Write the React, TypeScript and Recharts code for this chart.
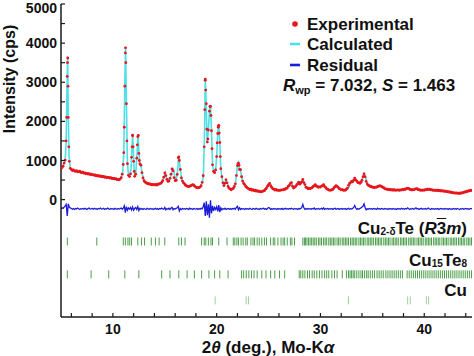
import React from 'react';
import { ComposedChart, Line, XAxis, YAxis } from 'recharts';

// ---------- data ----------
const OBS_START = 5.0;
const OBS_STEP = 0.1;
// experimental intensity (cps), one value per 0.1 deg from 5.0 to 44.6
const obsCounts = [
  790, 820, 855, 935, 1010, 1500, 3150, 2100, 980, 800,
  770, 745, 760, 730, 725, 740, 710, 715, 725, 700,
  695, 700, 675, 685, 660, 670, 655, 665, 640, 650,
  635, 640, 620, 630, 605, 620, 600, 615, 590, 600,
  585, 595, 570, 580, 560, 565, 570, 550, 560, 540,
  540, 545, 525, 535, 510, 520, 505, 525, 560, 650,
  900, 1850, 3750, 2450, 920, 620, 590, 660, 1080, 1630,
  980, 595, 650, 1060, 1610, 1180, 915, 880, 690, 555,
  485, 445, 435, 410, 415, 395, 400, 380, 390, 375,
  380, 390, 370, 395, 390, 410, 415, 440, 485, 575,
  680, 615, 520, 470, 475, 545, 650, 785, 735, 560,
  485, 495, 645, 1070, 1000, 770, 555, 475, 430, 405,
  370, 350, 340, 330, 345, 355, 365, 385, 370, 340,
  320, 305, 300, 310, 320, 355, 440, 610, 1350, 3050,
  2450, 1470, 1780, 2260, 2380, 1760, 890, 720, 690, 760,
  1100, 1690, 1880, 1460, 790, 585, 430, 360, 420, 505,
  430, 335, 290, 270, 250, 275, 285, 335, 405, 615,
  870, 935, 770, 765, 585, 475, 415, 385, 335, 315,
  290, 275, 255, 265, 240, 255, 230, 240, 215, 230,
  210, 215, 200, 205, 205, 225, 230, 265, 295, 345,
  385, 415, 355, 315, 275, 270, 245, 260, 240, 245,
  235, 240, 245, 250, 250, 265, 265, 290, 295, 345,
  365, 415, 435, 345, 295, 315, 335, 375, 405, 445,
  395, 425, 455, 515, 435, 385, 315, 305, 280, 285,
  280, 295, 305, 335, 355, 385, 345, 335, 315, 325,
  320, 345, 360, 385, 335, 310, 275, 265, 245, 245,
  240, 255, 260, 305, 325, 360, 340, 315, 280, 270,
  250, 255, 240, 245, 240, 265, 295, 365, 415, 435,
  465, 455, 495, 550, 505, 475, 435, 435, 415, 445,
  495, 585, 655, 585, 465, 405, 365, 355, 335, 335,
  315, 320, 305, 320, 315, 335, 340, 360, 345, 340,
  315, 305, 275, 275, 260, 265, 250, 260, 245, 255,
  240, 255, 240, 245, 245, 250, 235, 250, 245, 260,
  250, 265, 265, 285, 285, 290, 260, 260, 245, 255,
  250, 270, 275, 280, 255, 255, 240, 245, 240, 245,
  240, 255, 250, 265, 260, 265, 250, 255, 240, 245,
  235, 240, 235, 240, 225, 235, 220, 230, 215, 220,
  210, 215, 200, 205, 190, 195, 180, 185, 170, 175,
  165, 170, 160, 165, 155, 170, 165, 180, 180, 200,
  195, 215, 210, 230, 225, 240, 235,
];
// extra experimental points measured on the steep peak flanks
const obsPeakDetail: [number, number][] = [
  [5.55, 2100], [5.62, 3500], [5.65, 3620], [5.68, 2900], [5.75, 1350],
  [11.05, 1200], [11.15, 2900], [11.22, 3880], [11.25, 3500], [11.35, 1500],
  [11.85, 1350], [11.9, 1650], [11.95, 1350], [12.05, 720],
  [12.35, 1400], [12.45, 1640], [12.55, 1000], [16.35, 1090],
  [18.85, 2300], [18.9, 3080], [18.95, 2800], [19.05, 1800], [19.15, 1550],
  [19.35, 2380], [19.45, 2150], [19.55, 1300],
  [20.05, 1450], [20.15, 1850], [20.2, 1900], [20.25, 1700], [20.35, 1100],
  [22.05, 920], [22.15, 880],
];
// calculated profile [2theta, cps]
const calcProfile: [number, number][] = [
  [5.0, 790], [5.2, 860], [5.4, 1000], [5.5, 1500], [5.58, 2900], [5.64, 3650], [5.7, 2200],
  [5.78, 1100], [5.9, 790], [6.2, 750], [7.0, 690], [8.0, 630], [9.0, 585], [10.0, 535],
  [10.6, 515], [10.8, 555], [10.95, 700], [11.05, 1200], [11.15, 3000], [11.22, 3910],
  [11.3, 2500], [11.4, 950], [11.5, 630], [11.62, 600], [11.75, 780], [11.85, 1400],
  [11.9, 1660], [11.97, 1300], [12.05, 750], [12.12, 600], [12.2, 680], [12.3, 1050],
  [12.4, 1550], [12.44, 1660], [12.5, 1250], [12.58, 950], [12.68, 890], [12.8, 700],
  [12.95, 520], [13.2, 440], [13.6, 400], [14.0, 380], [14.4, 395], [14.7, 440],
  [14.9, 560], [15.05, 690], [15.2, 540], [15.35, 470], [15.55, 560], [15.75, 780],
  [15.8, 790], [15.9, 700], [16.0, 490], [16.1, 500], [16.2, 650], [16.35, 1100],
  [16.5, 770], [16.6, 560], [16.75, 460], [17.0, 370], [17.3, 330], [17.6, 360],
  [17.75, 380], [18.0, 320], [18.2, 300], [18.4, 320], [18.6, 430], [18.72, 600],
  [18.82, 1600], [18.9, 3090], [18.98, 2500], [19.08, 1450], [19.2, 1800], [19.32, 2300],
  [19.4, 2420], [19.5, 1750], [19.6, 900], [19.7, 720], [19.8, 690], [19.9, 770],
  [20.0, 1100], [20.1, 1700], [20.2, 1910], [20.3, 1450], [20.4, 780], [20.5, 590],
  [20.6, 430], [20.7, 360], [20.8, 420], [20.9, 510], [21.0, 430], [21.2, 295],
  [21.4, 255], [21.6, 290], [21.8, 410], [21.9, 610], [22.0, 870], [22.1, 940],
  [22.2, 780], [22.3, 760], [22.4, 590], [22.5, 470], [22.7, 380], [23.0, 290],
  [23.3, 255], [23.8, 230], [24.3, 205], [24.6, 230], [24.8, 300], [25.0, 390],
  [25.1, 410], [25.25, 340], [25.5, 270], [26.0, 240], [26.5, 260], [26.9, 320],
  [27.2, 440], [27.35, 330], [27.5, 300], [27.75, 390], [27.9, 440], [28.0, 400],
  [28.1, 420], [28.3, 510], [28.5, 380], [28.7, 300], [28.9, 280], [29.2, 310],
  [29.5, 380], [29.7, 340], [29.9, 320], [30.1, 340], [30.3, 380], [30.5, 305],
  [30.7, 260], [30.9, 240], [31.2, 260], [31.4, 320], [31.55, 355], [31.8, 290],
  [32.1, 250], [32.5, 245], [32.7, 300], [32.9, 430], [33.0, 470], [33.1, 450],
  [33.27, 550], [33.45, 480], [33.7, 425], [33.9, 440], [34.1, 580], [34.2, 660],
  [34.35, 560], [34.5, 400], [34.7, 350], [35.0, 320], [35.3, 315], [35.6, 345],
  [35.75, 355], [36.0, 320], [36.3, 270], [36.8, 252], [37.5, 245], [38.0, 255],
  [38.4, 290], [38.7, 255], [39.0, 255], [39.2, 280], [39.5, 250], [40.0, 245],
  [40.4, 265], [40.8, 240], [41.5, 230], [42.0, 215], [42.5, 195], [43.0, 170],
  [43.4, 162], [43.8, 185], [44.2, 215], [44.6, 240],
];
const RES_START = 5.0;
const RES_STEP = 0.1;
// residual curve (offset below zero), one value per 0.1 deg
const residualCounts = [
  -240, -210, -225, -190, -160, -120, -420, -110, -190, -215,
  -220, -245, -230, -250, -225, -240, -215, -235, -250, -230,
  -240, -225, -245, -220, -235, -250, -230, -215, -240, -235,
  -225, -245, -220, -240, -230, -250, -225, -235, -215, -240,
  -235, -220, -250, -230, -240, -215, -235, -245, -225, -240,
  -230, -250, -220, -235, -245, -225, -240, -230, -215, -245,
  -220, -160, -330, -180, -270, -215, -245, -200, -265, -190,
  -270, -225, -200, -250, -180, -280, -220, -245, -230, -250,
  -225, -240, -250, -220, -235, -245, -225, -240, -230, -250,
  -235, -220, -245, -230, -250, -225, -240, -215, -235, -245,
  -200, -260, -230, -245, -220, -250, -215, -200, -260, -230,
  -240, -225, -210, -170, -290, -230, -250, -225, -240, -230,
  -245, -225, -235, -250, -220, -240, -230, -250, -225, -235,
  -240, -225, -250, -230, -245, -220, -235, -180, -80, -420,
  -40, -400, -120, -460, -20, -350, -160, -290, -200, -250,
  -180, -300, -140, -320, -210, -260, -230, -245, -220, -250,
  -235, -225, -245, -230, -250, -225, -240, -220, -245, -200,
  -170, -260, -210, -250, -225, -240, -230, -250, -225, -240,
  -230, -245, -220, -240, -250, -225, -235, -245, -220, -240,
  -235, -250, -225, -240, -230, -220, -245, -230, -250, -225,
  -200, -215, -250, -235, -245, -225, -240, -230, -250, -225,
  -240, -230, -245, -225, -250, -235, -220, -240, -230, -245,
  -225, -240, -220, -235, -245, -225, -240, -230, -250, -225,
  -240, -225, -200, -120, -210, -250, -230, -245, -225, -240,
  -230, -245, -225, -240, -215, -250, -230, -240, -225, -245,
  -235, -220, -245, -210, -250, -230, -240, -225, -245, -230,
  -240, -225, -250, -230, -220, -245, -235, -225, -250, -235,
  -225, -245, -230, -240, -225, -250, -235, -220, -245, -230,
  -240, -225, -200, -150, -215, -250, -230, -245, -225, -210,
  -190, -170, -110, -200, -260, -235, -245, -225, -240, -230,
  -245, -225, -240, -230, -250, -220, -240, -230, -245, -225,
  -235, -245, -225, -240, -230, -250, -225, -240, -230, -245,
  -225, -240, -235, -250, -225, -240, -230, -245, -220, -240,
  -230, -245, -225, -240, -210, -235, -250, -230, -240, -225,
  -245, -230, -210, -240, -225, -250, -235, -220, -245, -230,
  -240, -225, -245, -230, -215, -240, -250, -225, -240, -230,
  -245, -230, -240, -225, -250, -235, -225, -240, -230, -245,
  -225, -240, -230, -250, -225, -240, -235, -245, -225, -240,
  -230, -245, -225, -240, -250, -230, -240, -225, -245, -235,
  -225, -240, -230, -245, -235, -225, -240,
];
// Bragg reflection positions (2theta, deg)
const cu2TeReflections = [
  5.61, 8.45, 11.0, 11.2, 11.45, 11.62, 11.8, 12.4, 12.75, 13.05, 13.7, 14.1, 14.45, 15.0,
  16.35, 16.6, 16.95, 18.55, 18.8, 18.95, 19.2, 19.45, 19.6, 20.2, 21.0, 21.6, 21.75, 21.95,
  22.1, 22.35, 22.55, 22.8, 22.95, 23.3, 23.5, 23.65, 23.9, 24.1, 24.35, 24.6, 24.8, 25.2,
  25.45, 25.6, 25.9, 26.2, 26.4, 26.55, 26.8, 27.1, 27.25, 27.5, 28.3, 28.45, 28.55, 28.7,
  28.85, 29.0, 29.15, 29.3, 29.45, 29.6, 29.8, 29.95, 30.1, 30.3, 30.45, 30.6, 30.8, 30.95,
  31.1, 31.25, 31.4, 31.6, 31.75, 31.9, 32.1, 32.25, 32.4, 32.55, 32.7, 32.9, 33.05, 33.2,
  33.35, 33.5, 33.7, 33.85, 34.0, 34.15, 34.3, 34.5, 34.65, 34.8, 34.95, 35.1, 35.3, 35.45,
  35.6, 35.75, 35.9, 36.1, 36.25, 36.4, 36.55, 36.7, 36.9, 37.05, 37.2, 37.35, 37.5, 37.7,
  37.85, 38.0, 38.15, 38.3, 38.5, 38.65, 38.8, 38.95, 39.1, 39.3, 39.45, 39.6, 39.75, 39.9,
  40.1, 40.25, 40.4, 40.55, 40.7, 40.9, 41.05, 41.2, 41.35, 41.5, 41.7, 41.85, 42.0, 42.15,
  42.3, 42.5, 42.65, 42.8, 42.95, 43.1, 43.3, 43.45, 43.6, 43.75, 43.9, 44.1, 44.25, 44.4, 44.55,
];
const cu15Te8Reflections = [
  5.61, 7.9, 9.6, 11.15, 12.5, 14.7, 15.5, 16.35, 17.15, 17.85, 18.55, 19.25, 19.8, 20.3,
  21.1, 22.4, 22.6, 22.85, 23.1, 23.35, 23.6, 23.9, 24.35, 24.75, 25.2, 25.6, 26.05, 26.55,
  27.95, 28.1, 28.3, 28.5, 28.75, 28.95, 29.2, 29.4, 29.65, 29.9, 30.15, 30.4, 30.6, 30.8,
  31.1, 31.35, 31.6, 32.1, 32.5, 32.7, 32.85, 33.0, 33.15, 33.3, 33.5, 33.7, 33.9, 34.05,
  34.25, 34.45, 34.6, 34.8, 35.0, 35.2, 35.45, 35.65, 35.85, 36.05, 36.3, 36.5, 36.7, 36.9,
  37.1, 37.3, 37.5, 37.7, 37.9, 38.35, 38.55, 38.75, 38.95, 39.15, 39.35, 39.55, 39.75,
  39.95, 40.15, 40.35, 40.55, 40.75, 40.95, 41.15, 41.35, 41.55, 41.75, 41.95, 42.15,
  42.35, 42.55, 42.75, 42.95, 43.15, 43.35, 43.55, 43.75, 43.95, 44.15, 44.35, 44.55,
];
const cuReflections = [19.85, 22.84, 23.06, 32.7, 38.4, 38.65, 40.2, 40.42];
// vertical level (in cps units) at which each phase's tick row is drawn
const rowLevels = { cu2Te: -1070, cu15Te8: -1910, cu: -2575 };

const xDomain: [number, number] = [5, 44.6];
const yDomain: [number, number] = [-3000, 5000];
const xTicks = [6, 8, 10, 12, 14, 16, 18, 20, 22, 24, 26, 28, 30, 32, 34, 36, 38, 40, 42, 44];
const xTickLabels = [10, 20, 30, 40];
const yTicks = [0, 500, 1000, 1500, 2000, 2500, 3000, 3500, 4000, 4500, 5000];
const yTickLabels = [0, 1000, 2000, 3000, 4000, 5000];

// ---------- tables for the library ----------
const r2 = (v: number) => Math.round(v * 100) / 100;
const obsData = [
  ...obsCounts.map((y, i) => ({ x: r2(OBS_START + i * OBS_STEP), y })),
  ...obsPeakDetail.map(([x, y]) => ({ x, y })),
].sort((a, b) => a.x - b.x);
const calcData = calcProfile.map(([x, y]) => ({ x, y }));
const resData = residualCounts.map((y, i) => ({ x: r2(RES_START + i * RES_STEP), y }));
const cu2TeData = cu2TeReflections.map((x) => ({ x, y: rowLevels.cu2Te }));
const cu15Te8Data = cu15Te8Reflections.map((x) => ({ x, y: rowLevels.cu15Te8 }));
const cuData = cuReflections.map((x) => ({ x, y: rowLevels.cu }));

// ---------- styles ----------
const FONT = '"Liberation Sans", Arial, Helvetica, sans-serif';
const AXIS = '#1a1a1a';
const RED = '#e8161c';
const CYAN = '#4fdfe6';
const BLUE = '#1c1cd8';
const GREEN = '#4a9e4a';
const LIGHTGREEN = '#9fd09f';

const BottomTick = (p: any) => {
  const { x, y, payload } = p;
  const v = payload.value;
  return (
    <g>
      <line x1={x} x2={x} y1={y} y2={y - 4} stroke={AXIS} strokeWidth={1.2} />
      {xTickLabels.includes(v) && (
        <text x={x} y={y + 17} textAnchor="middle" fontFamily={FONT} fontWeight="bold" fontSize={14} fill="#111">
          {v}
        </text>
      )}
    </g>
  );
};
const TopTick = (p: any) => {
  const { x, y } = p;
  return <line x1={x} x2={x} y1={y} y2={y + 4} stroke={AXIS} strokeWidth={1.2} />;
};
const LeftTick = (p: any) => {
  const { x, y, payload } = p;
  const v = payload.value;
  return (
    <g>
      <line x1={x} x2={x + 4} y1={y} y2={y} stroke={AXIS} strokeWidth={1.2} />
      {yTickLabels.includes(v) && (
        <text x={x - 4} y={Math.max(y + 5, 13)} textAnchor="end" fontFamily={FONT} fontWeight="bold" fontSize={14} fill="#111">
          {v}
        </text>
      )}
    </g>
  );
};
const RightTick = (p: any) => {
  const { x, y } = p;
  return <line x1={x} x2={x - 4} y1={y} y2={y} stroke={AXIS} strokeWidth={1.2} />;
};

const makeBar = (color: string, w: number) => (p: any) => (
  <line key={`b${p.index}`} x1={p.cx} x2={p.cx} y1={p.cy - 4} y2={p.cy + 4} stroke={color} strokeWidth={w} />
);

const txt: React.CSSProperties = {
  position: 'absolute',
  fontFamily: FONT,
  fontWeight: 700,
  fontSize: 17,
  lineHeight: '17px',
  color: '#111',
  whiteSpace: 'nowrap',
};
const sub = (size: number, top: number): React.CSSProperties => ({
  fontSize: size,
  position: 'relative',
  top,
});

export default function App() {
  return (
    <div style={{ position: 'absolute', left: 0, top: 0, width: 474, height: 356, background: '#fff' }}>
      <ComposedChart width={474} height={356} margin={{ top: 4, right: 2, bottom: 0, left: 0 }}>
        <XAxis
          type="number"
          dataKey="x"
          domain={xDomain}
          allowDataOverflow
          ticks={xTicks}
          interval={0}
          tick={BottomTick}
          tickLine={false}
          tickSize={0}
          tickMargin={0}
          height={39}
          axisLine={{ stroke: AXIS, strokeWidth: 1.5 }}
        />
        <XAxis
          xAxisId="top"
          orientation="top"
          type="number"
          dataKey="x"
          domain={xDomain}
          allowDataOverflow
          ticks={xTicks}
          interval={0}
          tick={TopTick}
          tickLine={false}
          tickSize={0}
          tickMargin={0}
          height={0}
          axisLine={{ stroke: AXIS, strokeWidth: 1.5 }}
        />
        <YAxis
          type="number"
          domain={yDomain}
          allowDataOverflow
          ticks={yTicks}
          interval={0}
          tick={LeftTick}
          tickLine={false}
          tickSize={0}
          tickMargin={0}
          width={61}
          axisLine={{ stroke: AXIS, strokeWidth: 1.5 }}
        />
        <YAxis
          yAxisId="right"
          orientation="right"
          type="number"
          domain={yDomain}
          allowDataOverflow
          ticks={yTicks}
          interval={0}
          tick={RightTick}
          tickLine={false}
          tickSize={0}
          tickMargin={0}
          width={0}
          axisLine={{ stroke: AXIS, strokeWidth: 1.5 }}
        />
        <Line data={calcData} dataKey="y" stroke={CYAN} strokeWidth={1.6} dot={false} activeDot={false} isAnimationActive={false} />
        <Line
          data={obsData}
          dataKey="y"
          stroke="none"
          dot={{ r: 1.4, fill: RED, stroke: 'none' }}
          activeDot={false}
          isAnimationActive={false}
        />
        <Line data={resData} dataKey="y" stroke={BLUE} strokeWidth={1.3} dot={false} activeDot={false} isAnimationActive={false} />
        <Line data={cu2TeData} dataKey="y" stroke="none" dot={makeBar(GREEN, 1)} activeDot={false} isAnimationActive={false} />
        <Line data={cu15Te8Data} dataKey="y" stroke="none" dot={makeBar(GREEN, 1)} activeDot={false} isAnimationActive={false} />
        <Line data={cuData} dataKey="y" stroke="none" dot={makeBar(LIGHTGREEN, 1)} activeDot={false} isAnimationActive={false} />
      </ComposedChart>

      <svg width={474} height={356} style={{ position: 'absolute', left: 0, top: 0, pointerEvents: 'none' }}>
        <text
          transform="translate(15,79) rotate(-90)"
          textAnchor="middle"
          fontFamily={FONT}
          fontWeight="bold"
          fontSize={16}
          fill="#111"
        >
          Intensity (cps)
        </text>
        <text x={268} y={353} textAnchor="middle" fontFamily={FONT} fontWeight="bold" fontSize={17} fill="#111">
          2<tspan fontStyle="italic">θ</tspan> (deg.), Mo-K<tspan fontStyle="italic">α</tspan>
        </text>
        <circle cx={295} cy={24} r={2.8} fill={RED} />
        <line x1={290} x2={300} y1={44} y2={44} stroke={CYAN} strokeWidth={2.6} />
        <line x1={290} x2={300} y1={65} y2={65} stroke={BLUE} strokeWidth={2.6} />
      </svg>

      <div style={{ ...txt, left: 307, top: 16 }}>Experimental</div>
      <div style={{ ...txt, left: 307, top: 36 }}>Calculated</div>
      <div style={{ ...txt, left: 307, top: 57 }}>Residual</div>
      <div style={{ ...txt, left: 283, top: 77 }}>
        <i>R</i>
        <span style={sub(11, 3)}>wp</span> = 7.032, <i>S</i> = 1.463
      </div>
      <div style={{ ...txt, right: 7, top: 220 }}>
        Cu<span style={sub(10, 1)}>2-δ</span>Te (<i>R</i>
        <span style={{ textDecoration: 'overline' }}>3</span>
        <i>m</i>)
      </div>
      <div style={{ ...txt, right: 7, top: 252 }}>
        Cu<span style={sub(10, 1)}>15</span>Te<span style={sub(10, 1)}>8</span>
      </div>
      <div style={{ ...txt, right: 7, top: 282 }}>Cu</div>
    </div>
  );
}
